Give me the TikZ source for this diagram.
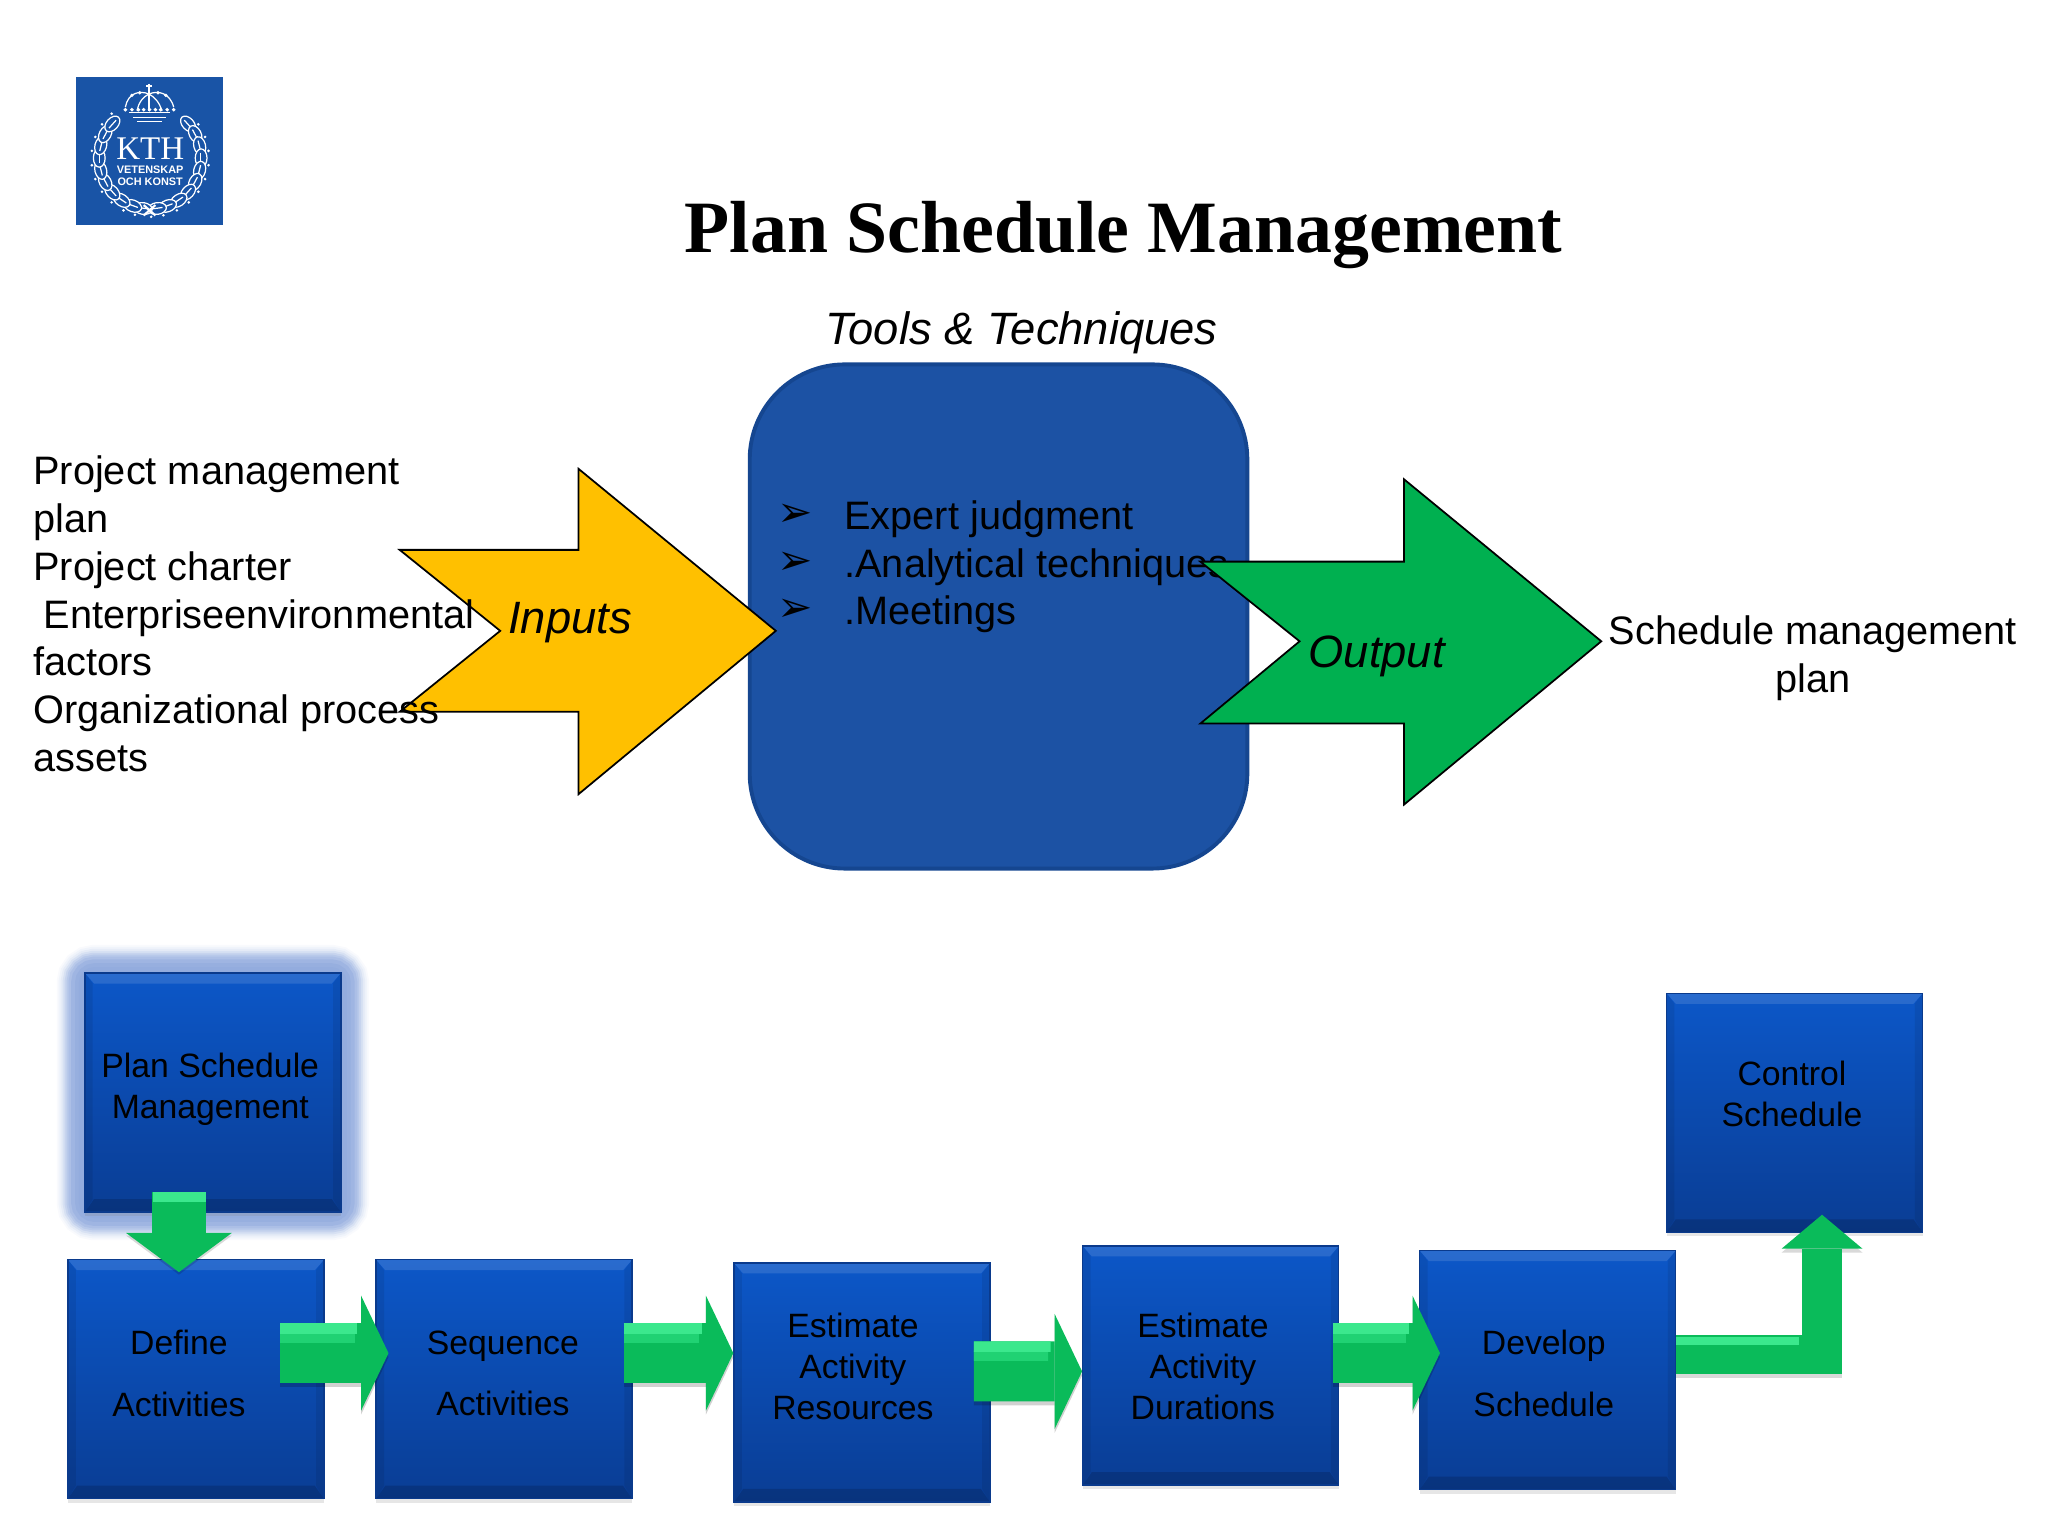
\documentclass[tikz,border=0pt]{standalone}
\usepackage{fontspec}
\setmainfont{Liberation Sans}
\newfontfamily\titlefont{Liberation Serif}
\newfontfamily\dingfont{DejaVu Sans}
\usepackage{xcolor}
\usetikzlibrary{arrows.meta,backgrounds,shadows}
\definecolor{kthblue}{HTML}{1954A6}
\definecolor{bigblue}{HTML}{1C52A4}
\definecolor{bigedge}{HTML}{154690}
\definecolor{inyellow}{HTML}{FFC000}
\definecolor{outgreen}{HTML}{00B050}
\definecolor{flowgreen}{HTML}{0ABB5A}
\definecolor{flowmid}{HTML}{20D273}
\definecolor{flowlight}{HTML}{3BE88D}
\definecolor{glowblue}{HTML}{2F5FC0}
\definecolor{steptop}{HTML}{0C57C8}
\definecolor{stepmid}{HTML}{0A4BAF}
\definecolor{stepbot}{HTML}{0A3D94}
\definecolor{stepedge}{HTML}{0A3A8C}
\def\unitpx{0.013061cm}
\def\boxw{196}
\def\boxh{183}
\tikzset{
    stepbox/.style={rectangle, draw=stepedge, line width=0.4pt, inner sep=0pt,
        minimum width=\boxw*\unitpx, minimum height=\boxh*\unitpx,
        top color=steptop, middle color=stepmid, bottom color=stepbot,
        drop shadow={shadow xshift=0pt, shadow yshift=-3*\unitpx, opacity=0.2},
        path picture={
            \fill[white, opacity=0.12] (path picture bounding box.north west) -- (path picture bounding box.north east)
                -- ++(-7*\unitpx,-8*\unitpx) -- ([shift={(7*\unitpx,-8*\unitpx)}]path picture bounding box.north west) -- cycle;
            \fill[black, opacity=0.15] (path picture bounding box.south west) -- (path picture bounding box.south east)
                -- ++(-7*\unitpx,10*\unitpx) -- ([shift={(7*\unitpx,10*\unitpx)}]path picture bounding box.south west) -- cycle;
            \fill[black, opacity=0.08] (path picture bounding box.north west) -- (path picture bounding box.south west)
                -- ++(6*\unitpx,10*\unitpx) -- ([shift={(6*\unitpx,-8*\unitpx)}]path picture bounding box.north west) -- cycle;
            \fill[black, opacity=0.08] (path picture bounding box.north east) -- (path picture bounding box.south east)
                -- ++(-6*\unitpx,10*\unitpx) -- ([shift={(-6*\unitpx,-8*\unitpx)}]path picture bounding box.north east) -- cycle;
        }},
    steptext/.style={align=center, font=\fontsize{9.6}{11.6}\selectfont, inner sep=0pt},
    bodytext/.style={font=\fontsize{11.3}{13.6}\selectfont, inner sep=0pt},
    arrowlabel/.style={font=\fontsize{12.9}{15}\selectfont\itshape, inner sep=0pt},
    bigarrow/.style={draw=black, line width=0.5pt, line join=miter},
    flowh/.style={line width=0.601cm, flowgreen, -{Triangle[length=0.274cm, width=1.149cm, line width=0pt]}},
    flowd/.style={line width=0.535cm, flowgreen, -{Triangle[length=0.392cm, width=1.058cm, line width=0pt]}},
    flowb/.style={line width=0.392cm, flowgreen, line join=miter, -{Triangle[length=0.340cm, width=0.810cm, line width=0pt]}},
    flowshine/.style={flowlight, line width=8*\unitpx},
    logoline/.style={white, line width=0.35pt},
}
% one green block arrow: style, from, to
\newcommand{\greenflow}[3]{%
    \draw[#1, black, opacity=0.18, transform canvas={yshift=-3*\unitpx}] #2 -- #3;
    \draw[#1] #2 -- #3;
    \draw[flowshine, flowmid, shorten >=26*\unitpx, transform canvas={yshift=12*\unitpx}] #2 -- #3;
    \draw[flowshine, shorten >=24*\unitpx, transform canvas={yshift=19*\unitpx}] #2 -- #3;
}
\begin{document}
\begin{tikzpicture}[x=\unitpx, y=-\unitpx]
    \useasboundingbox (0,0) rectangle (1568,1176);

    % logo
    \node(logo) [rectangle, fill=kthblue, minimum size=113*\unitpx, inner sep=0pt] at (114.5,115.5) {};
    \node(kth) [text=white, inner sep=0pt, font=\titlefont\fontsize{9.4}{10}\selectfont] at (115,113.5) {KTH};
    \node(vet) [text=white, inner sep=0pt, font=\bfseries\fontsize{3.1}{4}\selectfont] at (115,130) {VETENSKAP};
    \node(och) [text=white, inner sep=0pt, font=\bfseries\fontsize{3.1}{4}\selectfont] at (115,139) {OCH KONST};
    \foreach \a in {-42,-28,-14,0,14,28,42,56,70,82,98,110,124,138,152,166,180,194,208,222} {
        \draw[logoline, fill=kthblue, shift={(115,121)}, shift={(\a:39)}, rotate=-\a+90] (0,0) ellipse [x radius=7*\unitpx, y radius=4.5*\unitpx];
        \draw[logoline, shift={(115,121)}] (\a-6:39) -- (\a+6:39);
        \fill[white, shift={(115,121)}] (\a+7:45) circle [radius=1.1*\unitpx];
    }
    \draw[logoline, line width=0.6pt] (110,157) -- (119,165) (119,157) -- (110,165);
    \draw[logoline] (96,82) .. controls (98,71) and (107,69) .. (114,72) .. controls (121,69) and (130,71) .. (133,82);
    \draw[logoline] (105,85) .. controls (106,78) and (110,74) .. (114,72) .. controls (118,74) and (122,78) .. (124,85);
    \draw[logoline] (114,72) -- (114,85);
    \draw[logoline] (99,86) -- (130,86) (102,90) -- (127,90) (105,93) -- (124,93);
    \draw[logoline, line width=0.6pt] (114,64) -- (114,72) (112,66) -- (116,66);
    \foreach \x in {96,101,106,110,114.5,119,123,128,133} {
        \fill[white] (\x,84) circle [radius=1.5*\unitpx];
    }
    \foreach \x/\y in {101/73,107/71,121/71,127/73} {
        \fill[white] (\x,\y) circle [radius=1.4*\unitpx];
    }

    % title row
    \node(title) [inner sep=0pt, font=\titlefont\bfseries\fontsize{21}{25}\selectfont] at (860,180) {Plan Schedule Management};
    \node(tools) [arrowlabel] at (782,255) {Tools \& Techniques};

    % process block
    \node(block) [rectangle, draw=bigedge, fill=bigblue, line width=3*\unitpx, rounded corners=0.95cm,
        minimum width=381*\unitpx, minimum height=386*\unitpx] at (764.5,472) {};
    \node(bullets) [bodytext, align=center, font=\dingfont\fontsize{12}{13.6}\selectfont] at (609,431) {➢\\➢\\➢};
    \node(tools list) [bodytext, align=left, anchor=west] at (646,434) {Expert judgment\\.Analytical techniques\\.Meetings};

    \draw[bigarrow, fill=inyellow] (306,421) -- (443,421) -- (443,359) -- (594,483) -- (443,608) -- (443,545) -- (306,545) -- (383,483) -- cycle;
    \draw[bigarrow, fill=outgreen] (919,430) -- (1075,430) -- (1075,367) -- (1226,491) -- (1075,616) -- (1075,554) -- (919,554) -- (995,491) -- cycle;
    \node(inputs) [arrowlabel] at (436.5,477) {Inputs};
    \node(output) [arrowlabel] at (1054,502.5) {Output};

    \node(input list) [bodytext, align=left, anchor=west] at (25,470) {Project management\\plan\\Project charter\\\hspace*{0.105cm}Enterpriseenvironmental\\factors\\Organizational process\\assets};
    \node(output list) [bodytext, align=center] at (1388,504) {Schedule management\\plan};

    % process chain
    \node(plan) [stepbox] at (163,836.5) {};
    \node(define) [stepbox] at (150,1056) {};
    \node(sequence) [stepbox] at (386,1056) {};
    \node(resources) [stepbox] at (660,1058.5) {};
    \node(durations) [stepbox] at (927,1045.5) {};
    \node(develop) [stepbox] at (1185,1049) {};
    \node(control) [stepbox] at (1374,852) {};

    \begin{scope}[on background layer]
        \foreach \g/\c in {42/3,39/7,36/12,33/19,30/27,27/34,24/40,20/46,14/50,8/52} {
            \draw[glowblue!\c!white, line width=\g*\unitpx, rounded corners=8*\unitpx] (plan.north west) rectangle (plan.south east);
        }
    \end{scope}

    \greenflow{flowh}{([shift={(-34,-20)}]define.east)}{([shift={(10,-20)}]sequence.west)}
    \greenflow{flowh}{([shift={(-7,-20)}]sequence.east)}{([shift={(0,-22.5)}]resources.west)}
    \greenflow{flowh}{([shift={(-13,-8.5)}]resources.east)}{([shift={(0,4.5)}]durations.west)}
    \greenflow{flowh}{([shift={(-5,-9.5)}]durations.east)}{([shift={(16,-13)}]develop.west)}

    \draw[flowd, black, opacity=0.15, transform canvas={yshift=-2*\unitpx}] ([shift={(-26,-16)}]plan.south) -- ([shift={(-13,10)}]define.north);
    \draw[flowd] ([shift={(-26,-16)}]plan.south) -- ([shift={(-13,10)}]define.north);
    \draw[flowshine] ([shift={(-46,-12)}]plan.south) -- ([shift={(-5,-12)}]plan.south);

    \coordinate (bent start) at ([shift={(0,-12)}]develop.east);
    \coordinate (bent tip) at ([shift={(21,-14)}]control.south);
    \coordinate (bent corner) at (bent start -| bent tip);
    \draw[flowb, black, opacity=0.15, transform canvas={yshift=-3*\unitpx}] (bent start) -| (bent tip);
    \draw[flowb] (bent start) -| (bent tip);
    \draw[flowshine, line width=6*\unitpx] ([shift={(0,-10)}]bent start) -- ([shift={(-18,-10)}]bent corner);

    \node(plan text) [steptext] at (161,834) {Plan Schedule\\Management};
    \node(define text) [steptext] at (137,1051.5) {Define\\[5.9pt]Activities};
    \node(sequence text) [steptext] at (385,1051.5) {Sequence\\[5.9pt]Activities};
    \node(resources text) [steptext] at (653,1046) {Estimate\\Activity\\Resources};
    \node(durations text) [steptext] at (921,1046) {Estimate\\Activity\\Durations};
    \node(develop text) [steptext] at (1182,1051.5) {Develop\\[5.9pt]Schedule};
    \node(control text) [steptext] at (1372,837.5) {Control\\Schedule};
\end{tikzpicture}
\end{document}
